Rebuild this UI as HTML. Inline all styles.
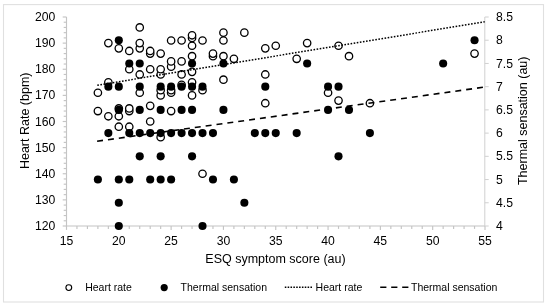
<!DOCTYPE html>
<html><head><meta charset="utf-8"><title>Chart</title>
<style>
html,body{margin:0;padding:0;background:#fff;}
body{width:550px;height:308px;overflow:hidden;position:relative;font-family:"Liberation Sans",Arial,sans-serif;}
svg{position:absolute;left:0;top:0;display:block}
svg text{font-family:"Liberation Sans",Arial,sans-serif;fill:#000}
.tk{font-size:12.2px}
.tt{font-size:12.5px}
.lg{font-size:10.5px}
</style></head><body>
<svg width="550" height="308" viewBox="0 0 550 308">
<rect x="0" y="0" width="550" height="308" fill="#fff"/>
<rect x="3.5" y="4.6" width="540" height="297.4" fill="#fff" stroke="#e0e0e0" stroke-width="1.1"/>

<g stroke="#c4c4c4" stroke-width="1.15" fill="none">
<path d="M66.5 17.0V226.0H485.0"/>
<path d="M484.8 226.0V17.0" stroke="#d0d0d0" stroke-width="1"/>
<path d="M62.70 226.00H66.5"/>
<path d="M63.70 220.78H66.5"/>
<path d="M63.70 215.55H66.5"/>
<path d="M63.70 210.32H66.5"/>
<path d="M63.70 205.10H66.5"/>
<path d="M62.70 199.88H66.5"/>
<path d="M63.70 194.65H66.5"/>
<path d="M63.70 189.43H66.5"/>
<path d="M63.70 184.20H66.5"/>
<path d="M63.70 178.97H66.5"/>
<path d="M62.70 173.75H66.5"/>
<path d="M63.70 168.53H66.5"/>
<path d="M63.70 163.30H66.5"/>
<path d="M63.70 158.07H66.5"/>
<path d="M63.70 152.85H66.5"/>
<path d="M62.70 147.62H66.5"/>
<path d="M63.70 142.40H66.5"/>
<path d="M63.70 137.18H66.5"/>
<path d="M63.70 131.95H66.5"/>
<path d="M63.70 126.72H66.5"/>
<path d="M62.70 121.50H66.5"/>
<path d="M63.70 116.28H66.5"/>
<path d="M63.70 111.05H66.5"/>
<path d="M63.70 105.83H66.5"/>
<path d="M63.70 100.60H66.5"/>
<path d="M62.70 95.38H66.5"/>
<path d="M63.70 90.15H66.5"/>
<path d="M63.70 84.92H66.5"/>
<path d="M63.70 79.70H66.5"/>
<path d="M63.70 74.47H66.5"/>
<path d="M62.70 69.25H66.5"/>
<path d="M63.70 64.03H66.5"/>
<path d="M63.70 58.80H66.5"/>
<path d="M63.70 53.58H66.5"/>
<path d="M63.70 48.35H66.5"/>
<path d="M62.70 43.12H66.5"/>
<path d="M63.70 37.90H66.5"/>
<path d="M63.70 32.67H66.5"/>
<path d="M63.70 27.45H66.5"/>
<path d="M63.70 22.23H66.5"/>
<path d="M62.70 17.00H66.5"/>
<path d="M66.50 226.0v3.9"/>
<path d="M76.96 226.0v2.9"/>
<path d="M87.42 226.0v2.9"/>
<path d="M97.89 226.0v2.9"/>
<path d="M108.35 226.0v2.9"/>
<path d="M118.81 226.0v3.9"/>
<path d="M129.28 226.0v2.9"/>
<path d="M139.74 226.0v2.9"/>
<path d="M150.20 226.0v2.9"/>
<path d="M160.66 226.0v2.9"/>
<path d="M171.12 226.0v3.9"/>
<path d="M181.59 226.0v2.9"/>
<path d="M192.05 226.0v2.9"/>
<path d="M202.51 226.0v2.9"/>
<path d="M212.97 226.0v2.9"/>
<path d="M223.44 226.0v3.9"/>
<path d="M233.90 226.0v2.9"/>
<path d="M244.36 226.0v2.9"/>
<path d="M254.82 226.0v2.9"/>
<path d="M265.29 226.0v2.9"/>
<path d="M275.75 226.0v3.9"/>
<path d="M286.21 226.0v2.9"/>
<path d="M296.68 226.0v2.9"/>
<path d="M307.14 226.0v2.9"/>
<path d="M317.60 226.0v2.9"/>
<path d="M328.06 226.0v3.9"/>
<path d="M338.52 226.0v2.9"/>
<path d="M348.99 226.0v2.9"/>
<path d="M359.45 226.0v2.9"/>
<path d="M369.91 226.0v2.9"/>
<path d="M380.38 226.0v3.9"/>
<path d="M390.84 226.0v2.9"/>
<path d="M401.30 226.0v2.9"/>
<path d="M411.76 226.0v2.9"/>
<path d="M422.23 226.0v2.9"/>
<path d="M432.69 226.0v3.9"/>
<path d="M443.15 226.0v2.9"/>
<path d="M453.61 226.0v2.9"/>
<path d="M464.07 226.0v2.9"/>
<path d="M474.54 226.0v2.9"/>
<path d="M485.00 226.0v3.9"/>
<path d="M484.8 226.00h3.9" stroke="#d0d0d0" stroke-width="1"/>
<path d="M484.8 202.78h3.9" stroke="#d0d0d0" stroke-width="1"/>
<path d="M484.8 179.56h3.9" stroke="#d0d0d0" stroke-width="1"/>
<path d="M484.8 156.33h3.9" stroke="#d0d0d0" stroke-width="1"/>
<path d="M484.8 133.11h3.9" stroke="#d0d0d0" stroke-width="1"/>
<path d="M484.8 109.89h3.9" stroke="#d0d0d0" stroke-width="1"/>
<path d="M484.8 86.67h3.9" stroke="#d0d0d0" stroke-width="1"/>
<path d="M484.8 63.44h3.9" stroke="#d0d0d0" stroke-width="1"/>
<path d="M484.8 40.22h3.9" stroke="#d0d0d0" stroke-width="1"/>
<path d="M484.8 17.00h3.9" stroke="#d0d0d0" stroke-width="1"/>
</g>
<text class="tk" x="55.4" y="230.10" text-anchor="end">120</text>
<text class="tk" x="55.4" y="203.97" text-anchor="end">130</text>
<text class="tk" x="55.4" y="177.85" text-anchor="end">140</text>
<text class="tk" x="55.4" y="151.72" text-anchor="end">150</text>
<text class="tk" x="55.4" y="125.60" text-anchor="end">160</text>
<text class="tk" x="55.4" y="99.47" text-anchor="end">170</text>
<text class="tk" x="55.4" y="73.35" text-anchor="end">180</text>
<text class="tk" x="55.4" y="47.23" text-anchor="end">190</text>
<text class="tk" x="55.4" y="21.10" text-anchor="end">200</text>
<text class="tk" x="496" y="230.10">4</text>
<text class="tk" x="496" y="206.88">4.5</text>
<text class="tk" x="496" y="183.66">5</text>
<text class="tk" x="496" y="160.43">5.5</text>
<text class="tk" x="496" y="137.21">6</text>
<text class="tk" x="496" y="113.99">6.5</text>
<text class="tk" x="496" y="90.77">7</text>
<text class="tk" x="496" y="67.54">7.5</text>
<text class="tk" x="496" y="44.32">8</text>
<text class="tk" x="496" y="21.10">8.5</text>
<text class="tk" x="66.50" y="245.3" text-anchor="middle">15</text>
<text class="tk" x="118.81" y="245.3" text-anchor="middle">20</text>
<text class="tk" x="171.12" y="245.3" text-anchor="middle">25</text>
<text class="tk" x="223.44" y="245.3" text-anchor="middle">30</text>
<text class="tk" x="275.75" y="245.3" text-anchor="middle">35</text>
<text class="tk" x="328.06" y="245.3" text-anchor="middle">40</text>
<text class="tk" x="380.38" y="245.3" text-anchor="middle">45</text>
<text class="tk" x="432.69" y="245.3" text-anchor="middle">50</text>
<text class="tk" x="485.00" y="245.3" text-anchor="middle">55</text>
<text class="tt" x="275.5" y="263.2" text-anchor="middle">ESQ symptom score (au)</text>
<text class="tt" transform="translate(28.8 120.8) rotate(-90)" text-anchor="middle">Heart Rate (bpm)</text>
<text class="tt" transform="translate(527.3 120.8) rotate(-90)" text-anchor="middle">Thermal sensation (au)</text>
<g fill="#fff" stroke="#000" stroke-width="1.3">
<circle cx="97.89" cy="111.05" r="3.7"/>
<circle cx="97.89" cy="92.76" r="3.7"/>
<circle cx="108.35" cy="116.28" r="3.7"/>
<circle cx="108.35" cy="82.31" r="3.7"/>
<circle cx="108.35" cy="43.12" r="3.7"/>
<circle cx="118.81" cy="126.72" r="3.7"/>
<circle cx="118.81" cy="116.28" r="3.7"/>
<circle cx="118.81" cy="108.44" r="3.7"/>
<circle cx="118.81" cy="48.35" r="3.7"/>
<circle cx="129.28" cy="126.72" r="3.7"/>
<circle cx="129.28" cy="111.05" r="3.7"/>
<circle cx="129.28" cy="108.44" r="3.7"/>
<circle cx="129.28" cy="69.25" r="3.7"/>
<circle cx="129.28" cy="50.96" r="3.7"/>
<circle cx="139.74" cy="92.76" r="3.7"/>
<circle cx="139.74" cy="74.47" r="3.7"/>
<circle cx="139.74" cy="48.35" r="3.7"/>
<circle cx="139.74" cy="43.12" r="3.7"/>
<circle cx="139.74" cy="27.45" r="3.7"/>
<circle cx="150.20" cy="121.50" r="3.7"/>
<circle cx="150.20" cy="105.83" r="3.7"/>
<circle cx="150.20" cy="69.25" r="3.7"/>
<circle cx="150.20" cy="53.58" r="3.7"/>
<circle cx="150.20" cy="50.96" r="3.7"/>
<circle cx="160.66" cy="137.18" r="3.7"/>
<circle cx="160.66" cy="95.38" r="3.7"/>
<circle cx="160.66" cy="90.15" r="3.7"/>
<circle cx="160.66" cy="74.47" r="3.7"/>
<circle cx="160.66" cy="69.25" r="3.7"/>
<circle cx="160.66" cy="53.58" r="3.7"/>
<circle cx="171.12" cy="111.05" r="3.7"/>
<circle cx="171.12" cy="92.76" r="3.7"/>
<circle cx="171.12" cy="90.15" r="3.7"/>
<circle cx="171.12" cy="66.64" r="3.7"/>
<circle cx="171.12" cy="61.41" r="3.7"/>
<circle cx="171.12" cy="40.51" r="3.7"/>
<circle cx="181.59" cy="84.92" r="3.7"/>
<circle cx="181.59" cy="74.47" r="3.7"/>
<circle cx="181.59" cy="61.41" r="3.7"/>
<circle cx="181.59" cy="40.51" r="3.7"/>
<circle cx="192.05" cy="95.38" r="3.7"/>
<circle cx="192.05" cy="82.31" r="3.7"/>
<circle cx="192.05" cy="71.86" r="3.7"/>
<circle cx="192.05" cy="56.19" r="3.7"/>
<circle cx="192.05" cy="45.74" r="3.7"/>
<circle cx="192.05" cy="37.90" r="3.7"/>
<circle cx="192.05" cy="35.29" r="3.7"/>
<circle cx="202.51" cy="173.75" r="3.7"/>
<circle cx="202.51" cy="90.15" r="3.7"/>
<circle cx="202.51" cy="40.51" r="3.7"/>
<circle cx="212.97" cy="56.19" r="3.7"/>
<circle cx="212.97" cy="53.58" r="3.7"/>
<circle cx="223.44" cy="79.70" r="3.7"/>
<circle cx="223.44" cy="56.19" r="3.7"/>
<circle cx="223.44" cy="40.51" r="3.7"/>
<circle cx="223.44" cy="32.67" r="3.7"/>
<circle cx="233.90" cy="58.80" r="3.7"/>
<circle cx="244.36" cy="32.67" r="3.7"/>
<circle cx="265.29" cy="103.21" r="3.7"/>
<circle cx="265.29" cy="74.47" r="3.7"/>
<circle cx="265.29" cy="48.35" r="3.7"/>
<circle cx="275.75" cy="45.74" r="3.7"/>
<circle cx="296.68" cy="58.80" r="3.7"/>
<circle cx="307.14" cy="43.12" r="3.7"/>
<circle cx="328.06" cy="92.76" r="3.7"/>
<circle cx="338.52" cy="100.60" r="3.7"/>
<circle cx="338.52" cy="45.74" r="3.7"/>
<circle cx="348.99" cy="56.19" r="3.7"/>
<circle cx="369.91" cy="103.21" r="3.7"/>
<circle cx="474.54" cy="53.58" r="3.7"/>
</g>
<path d="M97.3 85.2L484.7 21.8" stroke="#000" stroke-width="1.5" stroke-dasharray="1.6 1.53" fill="none"/>
<path d="M97.1 141.2L484.5 87.1" stroke="#000" stroke-width="1.6" stroke-dasharray="5.95 5.01" fill="none"/>
<g fill="#000">
<circle cx="118.81" cy="226.00" r="4.05"/>
<circle cx="202.51" cy="226.00" r="4.05"/>
<circle cx="118.81" cy="202.78" r="4.05"/>
<circle cx="244.36" cy="202.78" r="4.05"/>
<circle cx="97.89" cy="179.56" r="4.05"/>
<circle cx="118.81" cy="179.56" r="4.05"/>
<circle cx="129.28" cy="179.56" r="4.05"/>
<circle cx="150.20" cy="179.56" r="4.05"/>
<circle cx="160.66" cy="179.56" r="4.05"/>
<circle cx="171.12" cy="179.56" r="4.05"/>
<circle cx="212.97" cy="179.56" r="4.05"/>
<circle cx="233.90" cy="179.56" r="4.05"/>
<circle cx="139.74" cy="156.33" r="4.05"/>
<circle cx="160.66" cy="156.33" r="4.05"/>
<circle cx="192.05" cy="156.33" r="4.05"/>
<circle cx="338.52" cy="156.33" r="4.05"/>
<circle cx="108.35" cy="133.11" r="4.05"/>
<circle cx="129.28" cy="133.11" r="4.05"/>
<circle cx="139.74" cy="133.11" r="4.05"/>
<circle cx="150.20" cy="133.11" r="4.05"/>
<circle cx="160.66" cy="133.11" r="4.05"/>
<circle cx="171.12" cy="133.11" r="4.05"/>
<circle cx="181.59" cy="133.11" r="4.05"/>
<circle cx="192.05" cy="133.11" r="4.05"/>
<circle cx="202.51" cy="133.11" r="4.05"/>
<circle cx="212.97" cy="133.11" r="4.05"/>
<circle cx="254.82" cy="133.11" r="4.05"/>
<circle cx="265.29" cy="133.11" r="4.05"/>
<circle cx="275.75" cy="133.11" r="4.05"/>
<circle cx="296.68" cy="133.11" r="4.05"/>
<circle cx="369.91" cy="133.11" r="4.05"/>
<circle cx="118.81" cy="109.89" r="4.05"/>
<circle cx="139.74" cy="109.89" r="4.05"/>
<circle cx="160.66" cy="109.89" r="4.05"/>
<circle cx="181.59" cy="109.89" r="4.05"/>
<circle cx="192.05" cy="109.89" r="4.05"/>
<circle cx="223.44" cy="109.89" r="4.05"/>
<circle cx="328.06" cy="109.89" r="4.05"/>
<circle cx="348.99" cy="109.89" r="4.05"/>
<circle cx="108.35" cy="86.67" r="4.05"/>
<circle cx="118.81" cy="86.67" r="4.05"/>
<circle cx="139.74" cy="86.67" r="4.05"/>
<circle cx="160.66" cy="86.67" r="4.05"/>
<circle cx="171.12" cy="86.67" r="4.05"/>
<circle cx="181.59" cy="86.67" r="4.05"/>
<circle cx="192.05" cy="86.67" r="4.05"/>
<circle cx="202.51" cy="86.67" r="4.05"/>
<circle cx="265.29" cy="86.67" r="4.05"/>
<circle cx="328.06" cy="86.67" r="4.05"/>
<circle cx="338.52" cy="86.67" r="4.05"/>
<circle cx="129.28" cy="63.44" r="4.05"/>
<circle cx="139.74" cy="63.44" r="4.05"/>
<circle cx="192.05" cy="63.44" r="4.05"/>
<circle cx="223.44" cy="63.44" r="4.05"/>
<circle cx="307.14" cy="63.44" r="4.05"/>
<circle cx="443.15" cy="63.44" r="4.05"/>
<circle cx="118.81" cy="40.22" r="4.05"/>
<circle cx="474.54" cy="40.22" r="4.05"/>
</g>
<circle cx="68.8" cy="287.6" r="2.9" fill="#fff" stroke="#000" stroke-width="1.1"/>
<text class="lg" x="85.2" y="291.0">Heart rate</text>
<circle cx="164.2" cy="287.6" r="3.6" fill="#000"/>
<text class="lg" x="180.6" y="291.0">Thermal sensation</text>
<path d="M284.8 287.3H312.2" stroke="#000" stroke-width="1.45" stroke-dasharray="1.55 1.3" fill="none"/>
<text class="lg" x="315.6" y="291.0">Heart rate</text>
<path d="M380.2 287.3H408.5" stroke="#000" stroke-width="1.6" stroke-dasharray="6.2 4.8" fill="none"/>
<text class="lg" x="411" y="291.0">Thermal sensation</text>
</svg></body></html>
